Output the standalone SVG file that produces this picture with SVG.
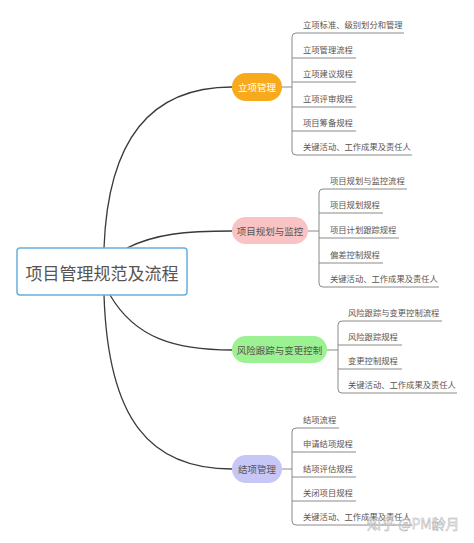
<svg xmlns="http://www.w3.org/2000/svg" width="474" height="543" viewBox="0 0 474 543">
<style>
.conn{fill:none;stroke:#3a3a3a;stroke-width:1.3}
.br{fill:none;stroke:#8a8a8a;stroke-width:1}
.it{font-family:"Noto Sans CJK SC","Noto Sans",sans-serif;font-size:8.3px;fill:#5a5450}
.nt{font-family:"Noto Sans CJK SC","Noto Sans",sans-serif;font-size:9.5px;text-anchor:middle;dominant-baseline:central}
</style>
<rect width="474" height="543" fill="#fff"/>
<g id="connectors">
<path class="conn" d="M104,248 C108,140 150,87 232,87"/>
<path class="conn" d="M127,248 C155,234 185,231 232,231"/>
<path class="conn" d="M110,295 C135,338 175,350 232,350"/>
<path class="conn" d="M104,295 C108,420 150,469 232,469"/>
</g>
<g id="root">
<rect x="17" y="248" width="170" height="47" rx="3" fill="#fff" stroke="#6aafdc" stroke-width="1.5"/>
<text x="102" y="272" font-family="'Noto Sans CJK SC','Noto Sans',sans-serif" font-size="17" fill="#5a5450" text-anchor="middle" dominant-baseline="central">项目管理规范及流程</text>
</g>
<g id="node1">
<rect x="232" y="73" width="50" height="28" rx="14" fill="#f6aa1c"/>
<text class="nt" x="257" y="87" fill="#fff">立项管理</text>
<path class="br" d="M282,87 H292 M296,33 Q292,33 292,37 V151 Q292,155 296,155 M296,33 H404 M292,58 H356 M292,82 H356 M292,107 H356 M292,131 H356 M296,155 H412"/>
<text class="it" x="303" y="28">立项标准、级别划分和管理</text>
<text class="it" x="303" y="53">立项管理流程</text>
<text class="it" x="303" y="77">立项建议规程</text>
<text class="it" x="303" y="102">立项评审规程</text>
<text class="it" x="303" y="126">项目筹备规程</text>
<text class="it" x="303" y="150">关键活动、工作成果及责任人</text>
</g>
<g id="node2">
<rect x="232" y="217" width="76" height="27" rx="13.5" fill="#f9c3c3"/>
<text class="nt" x="270" y="231" fill="#5a5450">项目规划与监控</text>
<path class="br" d="M308,231 H319 M323,189 Q319,189 319,193 V283 Q319,287 323,287 M323,189 H407 M319,213 H383 M319,238 H399 M319,263 H383 M323,287 H439"/>
<text class="it" x="330" y="184">项目规划与监控流程</text>
<text class="it" x="330" y="208">项目规划规程</text>
<text class="it" x="330" y="233">项目计划跟踪规程</text>
<text class="it" x="330" y="258">偏差控制规程</text>
<text class="it" x="330" y="282">关键活动、工作成果及责任人</text>
</g>
<g id="node3">
<rect x="232" y="336" width="95" height="27" rx="13.5" fill="#9cf292"/>
<text class="nt" x="279.5" y="350" fill="#5a5450">风险跟踪与变更控制</text>
<path class="br" d="M327,350 H338 M342,321 Q338,321 338,325 V389 Q338,393 342,393 M342,321 H442 M338,345 H402 M338,369 H402 M342,393 H457"/>
<text class="it" x="348" y="316">风险跟踪与变更控制流程</text>
<text class="it" x="348" y="340">风险跟踪规程</text>
<text class="it" x="348" y="364">变更控制规程</text>
<text class="it" x="348" y="388">关键活动、工作成果及责任人</text>
</g>
<g id="node4">
<rect x="232" y="455" width="50" height="28" rx="14" fill="#c6c6f7"/>
<text class="nt" x="257" y="469" fill="#5a5450">结项管理</text>
<path class="br" d="M282,469 H292 M296,428 Q292,428 292,432 V521 Q292,525 296,525 M296,428 H339 M292,452 H356 M292,477 H356 M292,501 H356 M296,525 H412"/>
<text class="it" x="303" y="423">结项流程</text>
<text class="it" x="303" y="447">申请结项规程</text>
<text class="it" x="303" y="472">结项评估规程</text>
<text class="it" x="303" y="496">关闭项目规程</text>
<text class="it" x="303" y="520">关键活动、工作成果及责任人</text>
</g>
<text x="367" y="529" font-family="'Noto Sans CJK SC','Noto Sans',sans-serif" font-size="14" fill="#fff" fill-opacity="0.6" stroke="#b0b0b0" stroke-width="0.5">知乎 @PM龄月</text>
</svg>
